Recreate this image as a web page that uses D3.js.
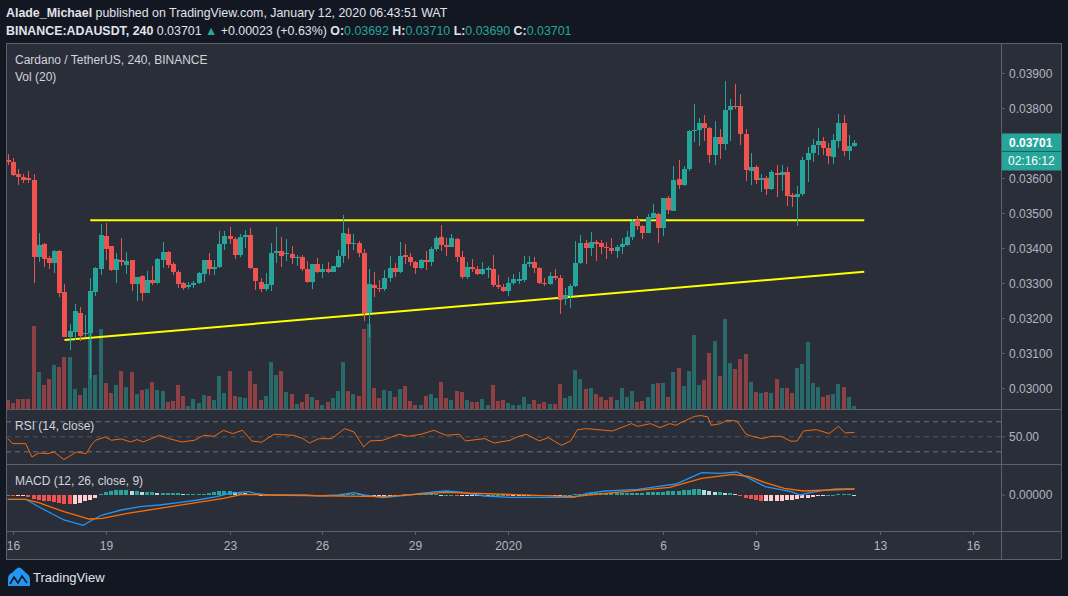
<!DOCTYPE html>
<html><head><meta charset="utf-8">
<script src="https://cdn.jsdelivr.net/npm/d3@7"></script>
<style>body{margin:0;background:#131722;overflow:hidden}svg{display:block;font-family:"Liberation Sans",Arial,sans-serif}</style>
</head><body><svg id="c" width="1068" height="596"></svg>
<script>
// ---------------- DATA ----------------
const firstBar = "2019-12-15T20:00:00Z"; // 4h bars
const opens  = [0.03652,0.03647,0.03612,0.03603,0.03601,0.03595,0.03376,0.03412,0.03373,0.03357,0.03392,0.03275,0.03148,0.03162,0.03215,0.03154,0.03159,0.03276,0.03342,0.03435,0.03406,0.03339,0.03367,0.03353,0.03366,0.03299,0.03321,0.03273,0.03309,0.03300,0.03368,0.03389,0.03356,0.03332,0.03300,0.03289,0.03296,0.03300,0.03328,0.03367,0.03341,0.03346,0.03411,0.03436,0.03427,0.03381,0.03431,0.03438,0.03344,0.03305,0.03283,0.03296,0.03386,0.03392,0.03383,0.03385,0.03371,0.03376,0.03342,0.03304,0.03356,0.03332,0.03341,0.03332,0.03348,0.03377,0.03442,0.03412,0.03415,0.03386,0.03215,0.03296,0.03288,0.03285,0.03314,0.03344,0.03331,0.03380,0.03375,0.03362,0.03345,0.03366,0.03362,0.03398,0.03431,0.03410,0.03404,0.03428,0.03376,0.03317,0.03346,0.03341,0.03327,0.03339,0.03342,0.03295,0.03290,0.03279,0.03300,0.03308,0.03310,0.03356,0.03362,0.03345,0.03302,0.03299,0.03322,0.03315,0.03254,0.03265,0.03291,0.03357,0.03415,0.03402,0.03418,0.03414,0.03405,0.03401,0.03392,0.03404,0.03410,0.03432,0.03480,0.03465,0.03444,0.03488,0.03499,0.03458,0.03543,0.03508,0.03598,0.03580,0.03626,0.03734,0.03737,0.03758,0.03745,0.03667,0.03718,0.03697,0.03795,0.03808,0.03806,0.03728,0.03622,0.03632,0.03596,0.03601,0.03570,0.03616,0.03610,0.03617,0.03551,0.03546,0.03555,0.03651,0.03671,0.03694,0.03706,0.03688,0.03662,0.03708,0.03758,0.03677,0.03692];
const highs  = [0.03669,0.03657,0.03626,0.03612,0.03621,0.03612,0.03444,0.03414,0.03378,0.03395,0.03395,0.03298,0.03184,0.03241,0.03232,0.03209,0.03315,0.03348,0.03469,0.03472,0.03407,0.03387,0.03429,0.03389,0.03367,0.03318,0.03324,0.03335,0.03349,0.03372,0.03418,0.03392,0.03361,0.03338,0.03304,0.03304,0.03306,0.03332,0.03367,0.03386,0.03366,0.03449,0.03449,0.03461,0.03432,0.03441,0.03452,0.03458,0.03345,0.03315,0.03329,0.03415,0.03461,0.03432,0.03426,0.03406,0.03381,0.03381,0.03364,0.03356,0.03372,0.03355,0.03361,0.03350,0.03395,0.03495,0.03458,0.03441,0.03421,0.03398,0.03341,0.03332,0.03309,0.03338,0.03378,0.03358,0.03418,0.03412,0.03386,0.03364,0.03369,0.03392,0.03404,0.03435,0.03466,0.03429,0.03441,0.03429,0.03392,0.03361,0.03369,0.03349,0.03361,0.03349,0.03381,0.03324,0.03298,0.03318,0.03327,0.03332,0.03378,0.03378,0.03376,0.03346,0.03314,0.03332,0.03341,0.03324,0.03287,0.03298,0.03421,0.03438,0.03424,0.03447,0.03424,0.03424,0.03418,0.03429,0.03409,0.03429,0.03449,0.03484,0.03492,0.03467,0.03498,0.03527,0.03500,0.03544,0.03549,0.03635,0.03652,0.03635,0.03738,0.03812,0.03772,0.03781,0.03747,0.03764,0.03741,0.03878,0.03827,0.03869,0.03841,0.03741,0.03672,0.03638,0.03612,0.03607,0.03624,0.03638,0.03638,0.03632,0.03558,0.03578,0.03661,0.03689,0.03712,0.03744,0.03718,0.03701,0.03727,0.03784,0.03781,0.03724,0.03710];
const lows   = [0.03638,0.03607,0.03582,0.03588,0.03588,0.03302,0.03362,0.03348,0.03341,0.03330,0.03262,0.03146,0.03109,0.03138,0.03136,0.03147,0.03028,0.03265,0.03325,0.03367,0.03335,0.03302,0.03350,0.03327,0.03279,0.03250,0.03250,0.03272,0.03295,0.03298,0.03345,0.03344,0.03325,0.03287,0.03281,0.03284,0.03286,0.03297,0.03304,0.03324,0.03324,0.03344,0.03395,0.03412,0.03369,0.03375,0.03401,0.03341,0.03281,0.03275,0.03278,0.03278,0.03358,0.03346,0.03364,0.03355,0.03349,0.03335,0.03301,0.03284,0.03329,0.03315,0.03329,0.03331,0.03344,0.03358,0.03369,0.03395,0.03375,0.03192,0.03146,0.03261,0.03275,0.03278,0.03304,0.03318,0.03329,0.03355,0.03349,0.03326,0.03341,0.03338,0.03349,0.03392,0.03392,0.03378,0.03403,0.03361,0.03312,0.03312,0.03332,0.03324,0.03324,0.03315,0.03289,0.03284,0.03275,0.03264,0.03295,0.03298,0.03304,0.03347,0.03330,0.03298,0.03293,0.03296,0.03309,0.03213,0.03239,0.03230,0.03290,0.03355,0.03356,0.03379,0.03365,0.03385,0.03369,0.03385,0.03373,0.03385,0.03406,0.03424,0.03452,0.03427,0.03443,0.03481,0.03415,0.03435,0.03498,0.03506,0.03569,0.03578,0.03621,0.03704,0.03692,0.03707,0.03644,0.03638,0.03655,0.03681,0.03707,0.03798,0.03695,0.03592,0.03581,0.03584,0.03561,0.03552,0.03567,0.03547,0.03564,0.03521,0.03518,0.03464,0.03549,0.03589,0.03647,0.03667,0.03667,0.03641,0.03641,0.03687,0.03664,0.03652,0.03690];
const closes = [0.03648,0.03610,0.03603,0.03595,0.03595,0.03376,0.03409,0.03370,0.03357,0.03392,0.03271,0.03148,0.03164,0.03221,0.03150,0.03159,0.03278,0.03344,0.03438,0.03399,0.03338,0.03369,0.03361,0.03364,0.03299,0.03318,0.03273,0.03309,0.03301,0.03369,0.03389,0.03353,0.03333,0.03298,0.03287,0.03296,0.03301,0.03329,0.03366,0.03341,0.03346,0.03412,0.03435,0.03426,0.03381,0.03432,0.03438,0.03344,0.03306,0.03284,0.03298,0.03386,0.03392,0.03378,0.03386,0.03372,0.03375,0.03341,0.03304,0.03355,0.03332,0.03341,0.03332,0.03349,0.03378,0.03444,0.03412,0.03415,0.03386,0.03215,0.03298,0.03286,0.03284,0.03315,0.03344,0.03332,0.03378,0.03375,0.03361,0.03344,0.03366,0.03361,0.03398,0.03429,0.03409,0.03404,0.03429,0.03375,0.03318,0.03346,0.03341,0.03327,0.03341,0.03344,0.03295,0.03289,0.03278,0.03301,0.03312,0.03311,0.03355,0.03362,0.03345,0.03302,0.03299,0.03321,0.03315,0.03253,0.03267,0.03292,0.03358,0.03415,0.03402,0.03418,0.03412,0.03405,0.03401,0.03392,0.03404,0.03412,0.03432,0.03478,0.03465,0.03444,0.03489,0.03501,0.03458,0.03543,0.03509,0.03595,0.03581,0.03627,0.03735,0.03738,0.03758,0.03744,0.03667,0.03718,0.03698,0.03795,0.03807,0.03806,0.03727,0.03624,0.03632,0.03595,0.03601,0.03569,0.03618,0.03609,0.03617,0.03549,0.03546,0.03555,0.03652,0.03672,0.03695,0.03707,0.03687,0.03664,0.03709,0.03758,0.03678,0.03692,0.03701];
const volumes = [9,6,10,10,10,83,37,24,30,44,42,52,52,20,14,21,76,34,80,26,16,24,38,22,37,15,19,20,27,19,18,7,8,24,
 13,3,10,6,14,13,9,33,16,38,13,12,11,38,25,9,13,47,34,38,17,15,5,7,15,12,9,4,7,11,18,47,18,15,
 13,80,85,21,11,19,18,12,20,23,8,4,4,13,15,11,27,11,9,18,17,9,7,7,10,4,24,8,9,6,4,4,12,
 5,9,5,7,5,5,25,11,13,39,30,20,21,15,12,9,12,9,21,12,18,7,8,12,25,26,26,12,37,41,23,38,74,
 24,29,56,68,33,90,46,40,50,55,27,17,16,17,16,30,21,21,16,41,45,67,26,22,12,14,15,25,22,12,3]; // millions

// RSI (14): [bar index, value]
const rsiPoints = [[0,46.9],[1,40.2],[3.5,40.2],[4.7,22.4],[6,27.8],[7.8,26.9],[9,29.1],[10.9,18.9],[13.3,29.1],[15.2,26.9],[16.4,40.2],[17,44.7],[18.9,49.1],[20.1,44.7],[22,46.5],[23.8,42.5],[25.1,45.6],[26.3,42.5],[29.4,51.3],[31.3,46.9],[33.7,42.5],[36.2,44.7],[38,51.3],[40,50],[41.8,58],[43.6,53.6],[45.5,58],[47.3,43.8],[49.2,42],[51.6,52.7],[55.4,51.3],[57.2,46.9],[58.5,41.1],[60.3,46.9],[62.8,46.9],[65.3,60.2],[67.1,55.8],[69,35.8],[70.2,43.8],[72.7,44.7],[75.8,52.7],[77.6,50],[80.1,52.7],[82.6,58],[85,51.3],[87.5,52.7],[88.7,43.8],[92.4,46.9],[94.3,41.1],[97.4,44.7],[98.7,49.1],[100.5,52.7],[103,43.8],[104.8,48.2],[107.3,38],[109.1,43.8],[110.4,58.9],[112.2,60.2],[117.2,57.1],[120.9,66.9],[122.1,63.3],[124.6,66.9],[126.4,61.6],[128.3,66.9],[129.5,64.7],[131.4,71.3],[133.2,76.7],[134.4,77.6],[135.7,75.8],[136.3,64.7],[138.2,66.9],[139.4,71.3],[141.3,70.4],[143.1,52.7],[144.3,50],[146.2,46.9],[148,50],[149.9,50],[151.8,43.3],[153,43.8],[154.2,57.1],[156.7,58.9],[159.2,53.6],[161,63.3],[162.3,54.5],[164.1,55.3]];
// MACD line and signal (x1e-5): [bar index, value]
const macdPoints = [[0,-4.8],[3.5,-4.8],[6,-12.2],[8.4,-18.8],[10.9,-25.5],[13.3,-28.8],[14.6,-30.8],[16.4,-25.5],[18.3,-20.5],[22,-15.5],[25.7,-12.2],[29.4,-10.5],[33.1,-8.2],[36.8,-5.5],[40.5,-2.2],[43,1.2],[46.7,2.8],[48,1.2],[50.4,-0.5],[57.8,-0.5],[60.3,-1.5],[64,-0.5],[67.1,1.8],[69,-0.5],[72.7,-3.2],[77.6,-0.5],[82.6,2.5],[85,3.5],[87.5,2.5],[92.4,-1.5],[97.4,-2.8],[103.6,-2.8],[109.7,-2.8],[112.2,1.2],[115.9,3.5],[122.1,5.2],[125.8,7.8],[129.5,10.5],[132,16.2],[134.5,21.8],[138.2,21.2],[141.3,22.5],[143.7,16.2],[146.8,7.8],[151.8,2.8],[153.6,-0.5],[155.5,1.8],[157.9,3.8],[160.4,5.5],[164.1,5.5]];
const signalPoints = [[0,-4.8],[3.5,-4.8],[6,-8.2],[10.9,-17.2],[15.8,-24.5],[18.3,-23.8],[23.2,-18.8],[29.4,-13.8],[35.6,-8.8],[41.8,-3.8],[45.5,0.2],[50.4,-0.5],[72.7,-2.2],[85,2.2],[109.7,-2.2],[115.9,1.2],[128.3,7.2],[134.5,16.2],[140.6,20.2],[143.7,17.8],[146.8,11.8],[150.5,6.2],[154.2,3.5],[159.2,4.5],[164.1,5.5]];
const histogram = [0,-1,-1,-1,-2,-4,-5,-6,-6.5,-7,-8,-9,-9.5,-9,-8,-6.5,-5,-3,1,3,4,5,5,5,4,4,3,3,3,2,2,2,2,2,1,1,1,1,1,2,3,4,4,4,3,3,2,1,1,
 0,0,0,0,0,0,0,0,0,0,0,0,0,0,0,0,0,1,1,1,-1,-2,-2,-2,-2,-1,-1,-1,1,1,1,1,1,1,1,0,0,0,
 -1,-1,-1,-1,-1,-1,-1,0,0,0,-1,-1,-1,-1,-1,0,0,0,-1,-1,-1,0,0,
 1,1,1,2,2,2,2,2,2,2,2,2,2,2,3,3,3,3,4,4,4,5,5,6,6,5,4,3,3,2,2,1,
 -1,-3,-4,-5,-6,-6,-6,-6,-6,-5,-5,-4,-3,-3,-2,-1,-1,0,0,1,1,1,0];

const priceTicks = [0.030,0.031,0.032,0.033,0.034,0.035,0.036,0.037,0.038,0.039];
const timeTickDates = ["2019-12-16","2019-12-19","2019-12-23","2019-12-26","2019-12-29","2020-01-01","2020-01-06","2020-01-09","2020-01-13","2020-01-16"];
const timeTickLabels = ["16","19","23","26","29","2020","6","9","13","16"];
const resistance = {from:"2019-12-18T12:00:00Z", to:"2020-01-12T12:00:00Z", price:0.03480};
const support = {from:"2019-12-17T16:00:00Z", p1:0.03138, to:"2020-01-12T12:00:00Z", p2:0.03333};
const last = {price:0.03701, open:0.03692, high:0.03710, low:0.03690, change:0.00023, pct:0.63, countdown:"02:16:12"};

// ---------------- LAYOUT ----------------
const W=1068,H=596, L=6, R=1001, AX=1061;
const mainTop=43, mainBot=409, rsiBot=464, macdBot=531, timeBot=559;
const UP="#26a69a", DN="#ef5350", TXT="#d1d4dc", AXT="#b2b5be", GRID="#5d606b";
const svg=d3.select("#c");
svg.append("rect").attr("width",W).attr("height",H).attr("fill","#131722");
svg.append("rect").attr("x",L).attr("y",mainTop).attr("width",AX-L).attr("height",timeBot-mainTop).attr("fill","#2a2e39");

const H4=4*3600e3, t0=new Date(firstBar).getTime();
const barW=5.16;
const x=d3.scaleTime().domain([new Date(t0), new Date(t0+200*H4)]).range([7.7, 7.7+200*barW]);
const xb=i=>x(new Date(t0+i*H4));
const y=d3.scaleLinear().domain([0.030,0.039]).range([388.3,73.3]);
const yVol=d3.scaleLinear().domain([0,100]).range([408.5,308.5]);
const yRsi=d3.scaleLinear().domain([30,70]).range([451.3,421.3]);
const yMacd=d3.scaleLinear().domain([-0.0001,0.0001]).range([504.5,484.5]);

const defs=svg.append("defs");
[["cm",mainTop,mainBot],["cr",mainBot,rsiBot],["cq",rsiBot,macdBot]].forEach(([id,a,b])=>{
  defs.append("clipPath").attr("id",id).append("rect").attr("x",L+1).attr("y",a+1).attr("width",R-L-1).attr("height",b-a-1);
});
const gm=svg.append("g").attr("clip-path","url(#cm)");
const gr=svg.append("g").attr("clip-path","url(#cr)");
const gq=svg.append("g").attr("clip-path","url(#cq)");

// volume
gm.selectAll("rect.v").data(volumes).join("rect").attr("class","v")
  .attr("x",(d,i)=>Math.round(xb(i))-2).attr("width",4)
  .attr("y",d=>yVol(d)).attr("height",d=>yVol(0)-yVol(d))
  .attr("fill",(d,i)=>closes[i]>=opens[i]?UP:DN).attr("fill-opacity",0.5).attr("shape-rendering","crispEdges");

// yellow trend lines
gm.append("line").attr("x1",x(new Date(resistance.from))).attr("x2",x(new Date(resistance.to)))
  .attr("y1",y(resistance.price)).attr("y2",y(resistance.price)).attr("stroke","#ffff00").attr("stroke-width",2);
gm.append("line").attr("x1",x(new Date(support.from))).attr("x2",x(new Date(support.to)))
  .attr("y1",y(support.p1)).attr("y2",y(support.p2)).attr("stroke","#ffff00").attr("stroke-width",2);

// candles
const cg=gm.append("g").attr("shape-rendering","crispEdges");
opens.forEach((o,i)=>{
  const c=closes[i], col=c>=o?UP:DN, xi=Math.round(xb(i));
  cg.append("rect").attr("x",xi).attr("width",1).attr("y",y(highs[i])).attr("height",Math.max(1,y(lows[i])-y(highs[i]))).attr("fill",col);
  const top=Math.min(y(o),y(c)), h=Math.max(1,Math.abs(y(o)-y(c)));
  cg.append("rect").attr("x",xi-2).attr("width",5).attr("y",top).attr("height",h).attr("fill",col);
});

// RSI
[70,50,30].forEach(v=>gr.append("line").attr("x1",L).attr("x2",R).attr("y1",yRsi(v)+0.5).attr("y2",yRsi(v)+0.5)
  .attr("stroke","#787b86").attr("stroke-dasharray","5,4").attr("stroke-opacity",v===50?0.5:0.9));
gr.append("path").datum(rsiPoints).attr("d",d3.line().x(d=>xb(d[0])).y(d=>yRsi(d[1])))
  .attr("fill","none").attr("stroke","#f0690e").attr("stroke-width",1);

// MACD
const hg=gq.append("g").attr("shape-rendering","crispEdges");
histogram.forEach((v,i)=>{
  const p=i>0?histogram[i-1]:0; const val=v*1e-5;
  const col=v>=0?(v>=p?UP:"#b2dfdb"):(v<p?DN:"#ffcdd2");
  const y0=yMacd(0), y1=yMacd(val);
  hg.append("rect").attr("x",Math.round(xb(i))-2).attr("width",4).attr("y",Math.min(y0,y1)).attr("height",Math.max(1,Math.abs(y1-y0))).attr("fill",col);
});
gq.append("path").datum(macdPoints).attr("d",d3.line().x(d=>xb(d[0])).y(d=>yMacd(d[1]*1e-5))).attr("fill","none").attr("stroke","#2196f3").attr("stroke-width",1.3);
gq.append("path").datum(signalPoints).attr("d",d3.line().x(d=>xb(d[0])).y(d=>yMacd(d[1]*1e-5))).attr("fill","none").attr("stroke","#ff6d00").attr("stroke-width",1.3);

// borders
const bl=(x1,y1,x2,y2)=>svg.append("line").attr("x1",x1).attr("y1",y1).attr("x2",x2).attr("y2",y2).attr("stroke",GRID).attr("stroke-width",1).attr("shape-rendering","crispEdges");
bl(L,mainTop,AX,mainTop); bl(L,timeBot,AX,timeBot); bl(L,mainTop,L,timeBot); bl(AX,mainTop,AX,timeBot);
bl(R,mainTop,R,timeBot);
[mainBot,rsiBot,macdBot].forEach(v=>bl(L,v,AX,v));

// price axis
const pa=svg.append("g");
priceTicks.forEach(p=>{
  pa.append("line").attr("x1",R).attr("x2",R+4).attr("y1",Math.round(y(p))+0.5).attr("y2",Math.round(y(p))+0.5).attr("stroke",GRID);
  pa.append("text").attr("x",R+8).attr("y",y(p)).attr("dy","0.35em").attr("fill",AXT).attr("font-size",12).text(p.toFixed(5));
});
pa.append("line").attr("x1",R).attr("x2",R+4).attr("y1",yRsi(50)+0.5).attr("y2",yRsi(50)+0.5).attr("stroke",GRID);
pa.append("text").attr("x",R+8).attr("y",yRsi(50)).attr("dy","0.35em").attr("fill",AXT).attr("font-size",12).text("50.00");
pa.append("line").attr("x1",R).attr("x2",R+4).attr("y1",yMacd(0)+0.5).attr("y2",yMacd(0)+0.5).attr("stroke",GRID);
pa.append("text").attr("x",R+8).attr("y",yMacd(0)).attr("dy","0.35em").attr("fill",AXT).attr("font-size",12).text("0.00000");
// last price label
const ly=y(last.price);
pa.append("rect").attr("x",R+1).attr("y",ly-9.5).attr("width",AX-R-1).attr("height",37).attr("fill",UP);
pa.append("line").attr("x1",R+1).attr("x2",AX).attr("y1",ly+8.5).attr("y2",ly+8.5).attr("stroke","#1b5e58");
pa.append("text").attr("x",R+8).attr("y",ly).attr("dy","0.35em").attr("fill","#fff").attr("font-size",12).attr("font-weight","bold").text(last.price.toFixed(5));
pa.append("text").attr("x",R+7).attr("y",ly+18).attr("dy","0.35em").attr("fill","#fff").attr("font-size",12).text(last.countdown);

// time axis
timeTickDates.forEach((d,i)=>{
  const xx=Math.round(x(new Date(d+"T00:00:00Z")))+0.5;
  svg.append("line").attr("x1",xx).attr("x2",xx).attr("y1",macdBot).attr("y2",macdBot+4).attr("stroke",GRID);
  svg.append("text").attr("x",xx).attr("y",546).attr("dy","0.35em").attr("text-anchor","middle").attr("fill",AXT).attr("font-size",12).text(timeTickLabels[i]);
});

// legends
const lg=(t,yy)=>svg.append("text").attr("x",15).attr("y",yy).attr("fill",TXT).attr("font-size",12).text(t);
lg("Cardano / TetherUS, 240, BINANCE",64); lg("Vol (20)",81); lg("RSI (14, close)",430); lg("MACD (12, 26, close, 9)",485);

// header
const h1=svg.append("text").attr("x",6).attr("y",17).attr("fill","#e0e3eb").attr("font-size",12.4);
h1.append("tspan").attr("font-weight","bold").text("Alade_Michael");
h1.append("tspan").text(" published on TradingView.com, January 12, 2020 06:43:51 WAT");
const h2=svg.append("text").attr("x",6).attr("y",35).attr("fill","#e0e3eb").attr("font-size",12.4);
h2.append("tspan").attr("font-weight","bold").text("BINANCE:ADAUSDT, 240");
h2.append("tspan").text(" "+last.price.toFixed(5)+" ");
h2.append("tspan").attr("fill",UP).text("▲");
h2.append("tspan").text(" +"+last.change.toFixed(5)+" (+"+last.pct.toFixed(2)+"%)");
[["O:",last.open],["H:",last.high],["L:",last.low],["C:",last.price]].forEach(([k,v])=>{
  h2.append("tspan").attr("font-weight","bold").text(" "+k);
  h2.append("tspan").attr("fill",UP).text(v.toFixed(5));
});

// footer logo
const lgG=svg.append("g");
lgG.append("path").attr("d","M8,586 L8,579 Q8,574 12,573 L16,569 Q19,566 22,569 L26,573 Q30,575 30,580 L30,586 Z").attr("fill","#2196f3");
lgG.append("path").attr("d","M10,584 L14,577 L18,583 L22,576 L27,583").attr("fill","none").attr("stroke","#131722").attr("stroke-width",1.6);
svg.append("text").attr("x",33).attr("y",582).attr("fill","#e0e3eb").attr("font-size",13).text("TradingView");
</script></body></html>
